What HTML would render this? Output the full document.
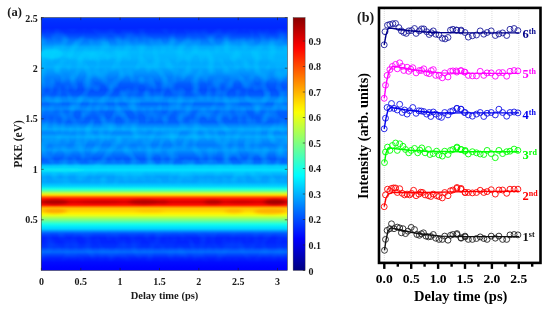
<!DOCTYPE html><html><head><meta charset="utf-8"><title>Figure</title><style>html,body{margin:0;padding:0;background:#fff}svg{display:block}</style></head><body><svg width="550" height="310" viewBox="0 0 550 310">
<defs><linearGradient id="hm" x1="0" y1="0" x2="0" y2="1"><stop offset="0.0000" stop-color="#0042ff"/><stop offset="0.0055" stop-color="#0033ff"/><stop offset="0.0214" stop-color="#002cff"/><stop offset="0.0411" stop-color="#0027ff"/><stop offset="0.0570" stop-color="#0033ff"/><stop offset="0.0728" stop-color="#004dff"/><stop offset="0.0886" stop-color="#0070ff"/><stop offset="0.1044" stop-color="#008aff"/><stop offset="0.1163" stop-color="#00a8ff"/><stop offset="0.1361" stop-color="#00b8ff"/><stop offset="0.1598" stop-color="#00b2ff"/><stop offset="0.1796" stop-color="#00a8ff"/><stop offset="0.1954" stop-color="#00adff"/><stop offset="0.2073" stop-color="#009eff"/><stop offset="0.2271" stop-color="#008aff"/><stop offset="0.2468" stop-color="#0075ff"/><stop offset="0.2627" stop-color="#005cff"/><stop offset="0.2864" stop-color="#004dff"/><stop offset="0.3062" stop-color="#005cff"/><stop offset="0.3180" stop-color="#0080ff"/><stop offset="0.3299" stop-color="#008aff"/><stop offset="0.3418" stop-color="#0066ff"/><stop offset="0.3536" stop-color="#0080ff"/><stop offset="0.3616" stop-color="#0085ff"/><stop offset="0.3734" stop-color="#0061ff"/><stop offset="0.3972" stop-color="#005cff"/><stop offset="0.4130" stop-color="#0061ff"/><stop offset="0.4288" stop-color="#008aff"/><stop offset="0.4407" stop-color="#00a3ff"/><stop offset="0.4565" stop-color="#0085ff"/><stop offset="0.4723" stop-color="#00a3ff"/><stop offset="0.4881" stop-color="#008aff"/><stop offset="0.5040" stop-color="#007aff"/><stop offset="0.5237" stop-color="#0094ff"/><stop offset="0.5396" stop-color="#0075ff"/><stop offset="0.5593" stop-color="#0057ff"/><stop offset="0.5752" stop-color="#0070ff"/><stop offset="0.5870" stop-color="#00c7ff"/><stop offset="0.6028" stop-color="#00e0ff"/><stop offset="0.6147" stop-color="#00bdff"/><stop offset="0.6305" stop-color="#009eff"/><stop offset="0.6503" stop-color="#00a3ff"/><stop offset="0.6661" stop-color="#00d1ff"/><stop offset="0.6780" stop-color="#1affe5"/><stop offset="0.6859" stop-color="#61ff9e"/><stop offset="0.6938" stop-color="#bdff42"/><stop offset="0.7017" stop-color="#ffdb00"/><stop offset="0.7097" stop-color="#ff6100"/><stop offset="0.7176" stop-color="#ff0f00"/><stop offset="0.7294" stop-color="#db0000"/><stop offset="0.7413" stop-color="#ff0f00"/><stop offset="0.7492" stop-color="#ff8a00"/><stop offset="0.7551" stop-color="#ffc200"/><stop offset="0.7650" stop-color="#ffd600"/><stop offset="0.7749" stop-color="#fff000"/><stop offset="0.7828" stop-color="#e5ff1a"/><stop offset="0.7927" stop-color="#a8ff57"/><stop offset="0.8046" stop-color="#61ff9e"/><stop offset="0.8165" stop-color="#1affe5"/><stop offset="0.8283" stop-color="#00e5ff"/><stop offset="0.8362" stop-color="#00d1ff"/><stop offset="0.8441" stop-color="#0094ff"/><stop offset="0.8521" stop-color="#005cff"/><stop offset="0.8600" stop-color="#003dff"/><stop offset="0.8718" stop-color="#0024ff"/><stop offset="0.8877" stop-color="#0024ff"/><stop offset="0.9074" stop-color="#0033ff"/><stop offset="0.9193" stop-color="#0057ff"/><stop offset="0.9272" stop-color="#0066ff"/><stop offset="0.9391" stop-color="#0042ff"/><stop offset="0.9509" stop-color="#0024ff"/><stop offset="0.9668" stop-color="#000dff"/><stop offset="0.9866" stop-color="#0002ff"/><stop offset="1.0000" stop-color="#0000fc"/></linearGradient><linearGradient id="cb" x1="0" y1="0" x2="0" y2="1"><stop offset="0.0000" stop-color="#880000"/><stop offset="0.0250" stop-color="#a10000"/><stop offset="0.0500" stop-color="#ba0000"/><stop offset="0.0750" stop-color="#d40000"/><stop offset="0.1000" stop-color="#ed0000"/><stop offset="0.1250" stop-color="#ff0700"/><stop offset="0.1500" stop-color="#ff2000"/><stop offset="0.1750" stop-color="#ff3a00"/><stop offset="0.2000" stop-color="#ff5300"/><stop offset="0.2250" stop-color="#ff6c00"/><stop offset="0.2500" stop-color="#ff8600"/><stop offset="0.2750" stop-color="#ff9f00"/><stop offset="0.3000" stop-color="#ffb800"/><stop offset="0.3250" stop-color="#ffd200"/><stop offset="0.3500" stop-color="#ffeb00"/><stop offset="0.3750" stop-color="#faff05"/><stop offset="0.4000" stop-color="#e1ff1e"/><stop offset="0.4250" stop-color="#c7ff38"/><stop offset="0.4500" stop-color="#aeff51"/><stop offset="0.4750" stop-color="#95ff6a"/><stop offset="0.5000" stop-color="#7bff84"/><stop offset="0.5250" stop-color="#62ff9d"/><stop offset="0.5500" stop-color="#49ffb6"/><stop offset="0.5750" stop-color="#30ffcf"/><stop offset="0.6000" stop-color="#16ffe9"/><stop offset="0.6250" stop-color="#00fcff"/><stop offset="0.6500" stop-color="#00e3ff"/><stop offset="0.6750" stop-color="#00c9ff"/><stop offset="0.7000" stop-color="#00b0ff"/><stop offset="0.7250" stop-color="#0097ff"/><stop offset="0.7500" stop-color="#007dff"/><stop offset="0.7750" stop-color="#0064ff"/><stop offset="0.8000" stop-color="#004bff"/><stop offset="0.8250" stop-color="#0032ff"/><stop offset="0.8500" stop-color="#0018ff"/><stop offset="0.8750" stop-color="#0000fe"/><stop offset="0.9000" stop-color="#0000e5"/><stop offset="0.9250" stop-color="#0000cb"/><stop offset="0.9500" stop-color="#0000b2"/><stop offset="0.9750" stop-color="#000099"/><stop offset="1.0000" stop-color="#000080"/></linearGradient><clipPath id="hc"><rect x="41.2" y="17.6" width="246.1" height="252.8"/></clipPath><linearGradient id="ng" gradientUnits="userSpaceOnUse" x1="0" y1="17" x2="0" y2="271"><stop offset="0.04" stop-color="#000"/><stop offset="0.1" stop-color="#fff"/><stop offset="0.64" stop-color="#fff"/><stop offset="0.675" stop-color="#000"/><stop offset="0.83" stop-color="#000"/><stop offset="0.86" stop-color="#484848"/><stop offset="0.94" stop-color="#484848"/><stop offset="0.97" stop-color="#000"/></linearGradient><mask id="nm" maskUnits="userSpaceOnUse" x="41" y="17" width="247" height="254"><rect x="41" y="17" width="247" height="254" fill="url(#ng)"/></mask><filter id="bl" x="-20%" y="-20%" width="140%" height="140%"><feGaussianBlur stdDeviation="2.2 1.1"/></filter><filter id="nz" x="0" y="0" width="100%" height="100%"><feTurbulence type="fractalNoise" baseFrequency="0.13 0.1" numOctaves="1" seed="7" result="t"/><feColorMatrix in="t" type="matrix" values="0 0 0 0 0  0 0 0 0 0.75  0 0 0 0 1  0.9 0 0 0 -0.36"/></filter></defs>
<rect width="550" height="310" fill="#fff"/>
<rect x="41.2" y="17.6" width="246.1" height="252.8" fill="url(#hm)"/>
<rect x="41.2" y="17.6" width="246.1" height="252.8" fill="none" stroke="#222" stroke-width="0.5"/>
<g clip-path="url(#hc)">
<g filter="url(#bl)">
<ellipse cx="55" cy="202" rx="13" ry="2.6" fill="#8c0000" opacity="0.55"/>
<ellipse cx="144" cy="202" rx="15" ry="2.4" fill="#8c0000" opacity="0.5"/>
<ellipse cx="163" cy="202" rx="5" ry="2" fill="#8c0000" opacity="0.35"/>
<ellipse cx="213" cy="202" rx="9" ry="2.3" fill="#8c0000" opacity="0.45"/>
<ellipse cx="275" cy="202" rx="11" ry="2.8" fill="#800000" opacity="0.6"/>
<ellipse cx="100" cy="202" rx="20" ry="1.8" fill="#a00000" opacity="0.25"/>
<ellipse cx="240" cy="202" rx="12" ry="1.8" fill="#a00000" opacity="0.25"/>
<ellipse cx="55" cy="211" rx="12" ry="2.6" fill="#ff8c00" opacity="0.6"/>
<ellipse cx="234" cy="211" rx="9" ry="2.4" fill="#ff9600" opacity="0.4"/>
<ellipse cx="270" cy="211.5" rx="16" ry="2.8" fill="#ff8c00" opacity="0.5"/>
<ellipse cx="150" cy="211" rx="14" ry="2" fill="#ffa000" opacity="0.25"/>
<ellipse cx="52" cy="54" rx="12" ry="5" fill="#00e6ff" opacity="0.5"/>
<ellipse cx="90" cy="56" rx="25" ry="4" fill="#00dcff" opacity="0.25"/>
<ellipse cx="60" cy="170" rx="25" ry="2" fill="#20ffe0" opacity="0.3"/>
</g>
<g mask="url(#nm)"><rect x="41" y="17" width="247" height="254" filter="url(#nz)"/></g>
</g>
<rect x="293.1" y="17.6" width="12" height="252.8" fill="url(#cb)"/>
<rect x="293.1" y="17.6" width="12" height="252.8" fill="none" stroke="#333" stroke-width="0.4"/>
<text x="37.8" y="21.5" font-size="10" text-anchor="end" font-family="'Liberation Serif',serif" font-weight="bold" fill="#1a1a1a">2.5</text>
<line x1="41.2" y1="17.6" x2="43.7" y2="17.6" stroke="#222" stroke-width="0.6"/>
<line x1="284.8" y1="17.6" x2="287.3" y2="17.6" stroke="#222" stroke-width="0.6"/>
<text x="37.8" y="71.8" font-size="10" text-anchor="end" font-family="'Liberation Serif',serif" font-weight="bold" fill="#1a1a1a">2</text>
<line x1="41.2" y1="68.2" x2="43.7" y2="68.2" stroke="#222" stroke-width="0.6"/>
<line x1="284.8" y1="68.2" x2="287.3" y2="68.2" stroke="#222" stroke-width="0.6"/>
<text x="37.8" y="122.3" font-size="10" text-anchor="end" font-family="'Liberation Serif',serif" font-weight="bold" fill="#1a1a1a">1.5</text>
<line x1="41.2" y1="118.8" x2="43.7" y2="118.8" stroke="#222" stroke-width="0.6"/>
<line x1="284.8" y1="118.8" x2="287.3" y2="118.8" stroke="#222" stroke-width="0.6"/>
<text x="37.8" y="172.9" font-size="10" text-anchor="end" font-family="'Liberation Serif',serif" font-weight="bold" fill="#1a1a1a">1</text>
<line x1="41.2" y1="169.3" x2="43.7" y2="169.3" stroke="#222" stroke-width="0.6"/>
<line x1="284.8" y1="169.3" x2="287.3" y2="169.3" stroke="#222" stroke-width="0.6"/>
<text x="37.8" y="223.4" font-size="10" text-anchor="end" font-family="'Liberation Serif',serif" font-weight="bold" fill="#1a1a1a">0.5</text>
<line x1="41.2" y1="219.8" x2="43.7" y2="219.8" stroke="#222" stroke-width="0.6"/>
<line x1="284.8" y1="219.8" x2="287.3" y2="219.8" stroke="#222" stroke-width="0.6"/>
<text x="41.4" y="285" font-size="10" text-anchor="middle" font-family="'Liberation Serif',serif" font-weight="bold" fill="#1a1a1a">0</text>
<line x1="41.4" y1="270.4" x2="41.4" y2="267.9" stroke="#222" stroke-width="0.6"/>
<line x1="41.4" y1="17.6" x2="41.4" y2="20.1" stroke="#222" stroke-width="0.6"/>
<text x="80.8" y="285" font-size="10" text-anchor="middle" font-family="'Liberation Serif',serif" font-weight="bold" fill="#1a1a1a">0.5</text>
<line x1="80.8" y1="270.4" x2="80.8" y2="267.9" stroke="#222" stroke-width="0.6"/>
<line x1="80.8" y1="17.6" x2="80.8" y2="20.1" stroke="#222" stroke-width="0.6"/>
<text x="120.1" y="285" font-size="10" text-anchor="middle" font-family="'Liberation Serif',serif" font-weight="bold" fill="#1a1a1a">1</text>
<line x1="120.1" y1="270.4" x2="120.1" y2="267.9" stroke="#222" stroke-width="0.6"/>
<line x1="120.1" y1="17.6" x2="120.1" y2="20.1" stroke="#222" stroke-width="0.6"/>
<text x="159.5" y="285" font-size="10" text-anchor="middle" font-family="'Liberation Serif',serif" font-weight="bold" fill="#1a1a1a">1.5</text>
<line x1="159.5" y1="270.4" x2="159.5" y2="267.9" stroke="#222" stroke-width="0.6"/>
<line x1="159.5" y1="17.6" x2="159.5" y2="20.1" stroke="#222" stroke-width="0.6"/>
<text x="198.8" y="285" font-size="10" text-anchor="middle" font-family="'Liberation Serif',serif" font-weight="bold" fill="#1a1a1a">2</text>
<line x1="198.8" y1="270.4" x2="198.8" y2="267.9" stroke="#222" stroke-width="0.6"/>
<line x1="198.8" y1="17.6" x2="198.8" y2="20.1" stroke="#222" stroke-width="0.6"/>
<text x="238.2" y="285" font-size="10" text-anchor="middle" font-family="'Liberation Serif',serif" font-weight="bold" fill="#1a1a1a">2.5</text>
<line x1="238.2" y1="270.4" x2="238.2" y2="267.9" stroke="#222" stroke-width="0.6"/>
<line x1="238.2" y1="17.6" x2="238.2" y2="20.1" stroke="#222" stroke-width="0.6"/>
<text x="277.5" y="285" font-size="10" text-anchor="middle" font-family="'Liberation Serif',serif" font-weight="bold" fill="#1a1a1a">3</text>
<line x1="277.5" y1="270.4" x2="277.5" y2="267.9" stroke="#222" stroke-width="0.6"/>
<line x1="277.5" y1="17.6" x2="277.5" y2="20.1" stroke="#222" stroke-width="0.6"/>
<text x="164.5" y="298.6" font-size="10.5" text-anchor="middle" font-family="'Liberation Serif',serif" font-weight="bold" fill="#1a1a1a">Delay time (ps)</text>
<text transform="translate(22.2,144) rotate(-90)" font-size="11.5" text-anchor="middle" font-family="'Liberation Serif',serif" font-weight="bold" fill="#1a1a1a">PKE (eV)</text>
<text x="7.3" y="16" font-size="12.5" font-family="'Liberation Serif',serif" font-weight="bold" fill="#1a1a1a">(a)</text>
<text x="308.5" y="274.7" font-size="10" font-family="'Liberation Serif',serif" font-weight="bold" fill="#1a1a1a">0</text>
<line x1="302.8" y1="270.5" x2="305.1" y2="270.5" stroke="#222" stroke-width="0.6"/>
<text x="308.5" y="248.6" font-size="10" font-family="'Liberation Serif',serif" font-weight="bold" fill="#1a1a1a">0.1</text>
<line x1="302.8" y1="245.0" x2="305.1" y2="245.0" stroke="#222" stroke-width="0.6"/>
<text x="308.5" y="223.1" font-size="10" font-family="'Liberation Serif',serif" font-weight="bold" fill="#1a1a1a">0.2</text>
<line x1="302.8" y1="219.5" x2="305.1" y2="219.5" stroke="#222" stroke-width="0.6"/>
<text x="308.5" y="197.6" font-size="10" font-family="'Liberation Serif',serif" font-weight="bold" fill="#1a1a1a">0.3</text>
<line x1="302.8" y1="194.0" x2="305.1" y2="194.0" stroke="#222" stroke-width="0.6"/>
<text x="308.5" y="172.1" font-size="10" font-family="'Liberation Serif',serif" font-weight="bold" fill="#1a1a1a">0.4</text>
<line x1="302.8" y1="168.5" x2="305.1" y2="168.5" stroke="#222" stroke-width="0.6"/>
<text x="308.5" y="146.6" font-size="10" font-family="'Liberation Serif',serif" font-weight="bold" fill="#1a1a1a">0.5</text>
<line x1="302.8" y1="143.0" x2="305.1" y2="143.0" stroke="#222" stroke-width="0.6"/>
<text x="308.5" y="121.1" font-size="10" font-family="'Liberation Serif',serif" font-weight="bold" fill="#1a1a1a">0.6</text>
<line x1="302.8" y1="117.5" x2="305.1" y2="117.5" stroke="#222" stroke-width="0.6"/>
<text x="308.5" y="95.6" font-size="10" font-family="'Liberation Serif',serif" font-weight="bold" fill="#1a1a1a">0.7</text>
<line x1="302.8" y1="92.0" x2="305.1" y2="92.0" stroke="#222" stroke-width="0.6"/>
<text x="308.5" y="70.1" font-size="10" font-family="'Liberation Serif',serif" font-weight="bold" fill="#1a1a1a">0.8</text>
<line x1="302.8" y1="66.5" x2="305.1" y2="66.5" stroke="#222" stroke-width="0.6"/>
<text x="308.5" y="44.6" font-size="10" font-family="'Liberation Serif',serif" font-weight="bold" fill="#1a1a1a">0.9</text>
<line x1="302.8" y1="41.0" x2="305.1" y2="41.0" stroke="#222" stroke-width="0.6"/>
<text x="357" y="21.8" font-size="14" font-family="'Liberation Serif',serif" font-weight="bold" fill="#1a1a1a">(b)</text>
<line x1="384.3" y1="9.2" x2="384.3" y2="261.7" stroke="#c4c4c4" stroke-width="0.7" stroke-dasharray="0.8,1.2"/>
<line x1="411.2" y1="9.2" x2="411.2" y2="261.7" stroke="#c4c4c4" stroke-width="0.7" stroke-dasharray="0.8,1.2"/>
<line x1="438.1" y1="9.2" x2="438.1" y2="261.7" stroke="#c4c4c4" stroke-width="0.7" stroke-dasharray="0.8,1.2"/>
<line x1="465.0" y1="9.2" x2="465.0" y2="261.7" stroke="#c4c4c4" stroke-width="0.7" stroke-dasharray="0.8,1.2"/>
<line x1="491.9" y1="9.2" x2="491.9" y2="261.7" stroke="#c4c4c4" stroke-width="0.7" stroke-dasharray="0.8,1.2"/>
<line x1="518.8" y1="9.2" x2="518.8" y2="261.7" stroke="#c4c4c4" stroke-width="0.7" stroke-dasharray="0.8,1.2"/>
<g fill="none" stroke="#1c1c9c" stroke-width="0.9">
<circle cx="384.2" cy="44.8" r="2.95"/>
<circle cx="385.0" cy="31.7" r="2.95"/>
<circle cx="387.5" cy="25.2" r="2.95"/>
<circle cx="389.9" cy="24.4" r="2.95"/>
<circle cx="392.8" cy="23.7" r="2.95"/>
<circle cx="395.6" cy="23.5" r="2.95"/>
<circle cx="398.9" cy="27.6" r="2.95"/>
<circle cx="401.4" cy="30.9" r="2.95"/>
<circle cx="403.8" cy="32.5" r="2.95"/>
<circle cx="406.3" cy="33.4" r="2.95"/>
<circle cx="408.7" cy="30.9" r="2.95"/>
<circle cx="411.6" cy="30.5" r="2.95"/>
<circle cx="414.5" cy="28.5" r="2.95"/>
<circle cx="416.1" cy="33.4" r="2.95"/>
<circle cx="419.4" cy="30.9" r="2.95"/>
<circle cx="421.6" cy="28.9" r="2.95"/>
<circle cx="423.8" cy="28.9" r="2.95"/>
<circle cx="426.7" cy="31.7" r="2.95"/>
<circle cx="429.2" cy="34.5" r="2.95"/>
<circle cx="431.2" cy="32.7" r="2.95"/>
<circle cx="433.3" cy="30.9" r="2.95"/>
<circle cx="435.7" cy="34.2" r="2.95"/>
<circle cx="439.0" cy="35.0" r="2.95"/>
<circle cx="442.3" cy="38.3" r="2.95"/>
<circle cx="445.1" cy="38.9" r="2.95"/>
<circle cx="448.0" cy="37.5" r="2.95"/>
<circle cx="450.5" cy="30.1" r="2.95"/>
<circle cx="452.9" cy="29.3" r="2.95"/>
<circle cx="456.2" cy="30.1" r="2.95"/>
<circle cx="456.8" cy="30.1" r="2.95"/>
<circle cx="460.9" cy="30.9" r="2.95"/>
<circle cx="461.1" cy="30.1" r="2.95"/>
<circle cx="465.0" cy="32.5" r="2.95"/>
<circle cx="468.3" cy="37.1" r="2.95"/>
<circle cx="472.4" cy="35.8" r="2.95"/>
<circle cx="476.5" cy="35.0" r="2.95"/>
<circle cx="480.2" cy="30.9" r="2.95"/>
<circle cx="483.8" cy="34.2" r="2.95"/>
<circle cx="487.1" cy="32.5" r="2.95"/>
<circle cx="491.2" cy="30.9" r="2.95"/>
<circle cx="495.3" cy="35.5" r="2.95"/>
<circle cx="498.9" cy="33.9" r="2.95"/>
<circle cx="502.6" cy="32.9" r="2.95"/>
<circle cx="506.7" cy="35.5" r="2.95"/>
<circle cx="510.0" cy="29.3" r="2.95"/>
<circle cx="514.1" cy="28.5" r="2.95"/>
<circle cx="517.9" cy="30.6" r="2.95"/>
</g>
<polyline fill="none" stroke="#00008b" stroke-width="1.4" stroke-linejoin="round" points="384.2,44.8 386.0,35.0 388.3,28.0 392.0,28.3 400.0,29.5 410.0,30.8 420.0,31.7 436.0,32.5 460.0,32.9 519.0,32.9"/>
<text x="522.6" y="37.5" font-size="12.5" font-family="'Liberation Serif',serif" font-weight="bold" fill="#00008b">6<tspan font-size="8" dy="-4">th</tspan></text>
<g fill="none" stroke="#ff00ff" stroke-width="0.9">
<circle cx="384.2" cy="98.3" r="2.95"/>
<circle cx="385.5" cy="85.2" r="2.95"/>
<circle cx="387.1" cy="75.4" r="2.95"/>
<circle cx="389.9" cy="69.6" r="2.95"/>
<circle cx="392.4" cy="66.4" r="2.95"/>
<circle cx="395.6" cy="64.4" r="2.95"/>
<circle cx="397.3" cy="68.8" r="2.95"/>
<circle cx="399.7" cy="62.8" r="2.95"/>
<circle cx="402.2" cy="66.4" r="2.95"/>
<circle cx="403.8" cy="70.5" r="2.95"/>
<circle cx="407.1" cy="67.2" r="2.95"/>
<circle cx="408.7" cy="71.3" r="2.95"/>
<circle cx="410.8" cy="69.2" r="2.95"/>
<circle cx="412.8" cy="67.7" r="2.95"/>
<circle cx="416.1" cy="72.9" r="2.95"/>
<circle cx="419.4" cy="70.5" r="2.95"/>
<circle cx="421.6" cy="70.4" r="2.95"/>
<circle cx="423.8" cy="68.8" r="2.95"/>
<circle cx="426.7" cy="72.9" r="2.95"/>
<circle cx="429.2" cy="73.7" r="2.95"/>
<circle cx="431.2" cy="70.6" r="2.95"/>
<circle cx="433.3" cy="69.6" r="2.95"/>
<circle cx="435.7" cy="75.4" r="2.95"/>
<circle cx="439.0" cy="75.4" r="2.95"/>
<circle cx="442.3" cy="77.8" r="2.95"/>
<circle cx="444.7" cy="72.9" r="2.95"/>
<circle cx="448.0" cy="77.0" r="2.95"/>
<circle cx="450.5" cy="71.3" r="2.95"/>
<circle cx="452.9" cy="70.9" r="2.95"/>
<circle cx="456.2" cy="70.9" r="2.95"/>
<circle cx="456.8" cy="72.1" r="2.95"/>
<circle cx="460.9" cy="70.5" r="2.95"/>
<circle cx="461.1" cy="70.9" r="2.95"/>
<circle cx="464.4" cy="72.1" r="2.95"/>
<circle cx="465.0" cy="72.1" r="2.95"/>
<circle cx="468.3" cy="75.4" r="2.95"/>
<circle cx="472.4" cy="75.9" r="2.95"/>
<circle cx="476.5" cy="75.9" r="2.95"/>
<circle cx="480.2" cy="71.3" r="2.95"/>
<circle cx="483.8" cy="75.4" r="2.95"/>
<circle cx="487.1" cy="72.9" r="2.95"/>
<circle cx="491.2" cy="72.9" r="2.95"/>
<circle cx="495.3" cy="76.2" r="2.95"/>
<circle cx="498.9" cy="72.6" r="2.95"/>
<circle cx="502.6" cy="72.6" r="2.95"/>
<circle cx="506.7" cy="76.2" r="2.95"/>
<circle cx="510.0" cy="71.3" r="2.95"/>
<circle cx="514.1" cy="70.5" r="2.95"/>
<circle cx="517.9" cy="70.9" r="2.95"/>
</g>
<polyline fill="none" stroke="#ff00ff" stroke-width="1.4" stroke-linejoin="round" points="384.2,98.3 386.5,82.0 389.0,71.0 392.4,66.4 397.0,66.8 405.0,68.3 415.0,70.0 425.0,71.5 441.5,72.9 465.0,73.4 519.0,73.4"/>
<text x="522.6" y="78.2" font-size="12.5" font-family="'Liberation Serif',serif" font-weight="bold" fill="#ff00ff">5<tspan font-size="8" dy="-4">th</tspan></text>
<g fill="none" stroke="#1414e6" stroke-width="0.9">
<circle cx="384.2" cy="128.8" r="2.95"/>
<circle cx="385.5" cy="118.2" r="2.95"/>
<circle cx="387.1" cy="107.5" r="2.95"/>
<circle cx="389.9" cy="108.4" r="2.95"/>
<circle cx="391.5" cy="103.5" r="2.95"/>
<circle cx="394.0" cy="108.4" r="2.95"/>
<circle cx="397.3" cy="110.0" r="2.95"/>
<circle cx="399.7" cy="104.3" r="2.95"/>
<circle cx="402.2" cy="112.5" r="2.95"/>
<circle cx="404.6" cy="110.0" r="2.95"/>
<circle cx="407.1" cy="114.1" r="2.95"/>
<circle cx="409.6" cy="110.8" r="2.95"/>
<circle cx="412.8" cy="107.5" r="2.95"/>
<circle cx="416.1" cy="113.3" r="2.95"/>
<circle cx="418.9" cy="110.8" r="2.95"/>
<circle cx="421.3" cy="111.0" r="2.95"/>
<circle cx="423.8" cy="111.6" r="2.95"/>
<circle cx="426.7" cy="114.1" r="2.95"/>
<circle cx="429.2" cy="112.5" r="2.95"/>
<circle cx="430.8" cy="116.5" r="2.95"/>
<circle cx="433.3" cy="112.0" r="2.95"/>
<circle cx="435.7" cy="114.1" r="2.95"/>
<circle cx="439.0" cy="116.5" r="2.95"/>
<circle cx="441.5" cy="117.4" r="2.95"/>
<circle cx="444.7" cy="112.5" r="2.95"/>
<circle cx="448.0" cy="114.9" r="2.95"/>
<circle cx="450.5" cy="111.6" r="2.95"/>
<circle cx="452.9" cy="110.8" r="2.95"/>
<circle cx="456.8" cy="108.4" r="2.95"/>
<circle cx="457.0" cy="108.4" r="2.95"/>
<circle cx="460.9" cy="109.2" r="2.95"/>
<circle cx="461.1" cy="109.2" r="2.95"/>
<circle cx="464.4" cy="112.5" r="2.95"/>
<circle cx="465.0" cy="112.5" r="2.95"/>
<circle cx="468.3" cy="114.9" r="2.95"/>
<circle cx="472.4" cy="116.2" r="2.95"/>
<circle cx="476.5" cy="114.1" r="2.95"/>
<circle cx="480.2" cy="112.5" r="2.95"/>
<circle cx="483.8" cy="116.5" r="2.95"/>
<circle cx="487.1" cy="113.3" r="2.95"/>
<circle cx="491.2" cy="112.5" r="2.95"/>
<circle cx="495.3" cy="114.9" r="2.95"/>
<circle cx="498.9" cy="109.2" r="2.95"/>
<circle cx="502.6" cy="112.5" r="2.95"/>
<circle cx="506.7" cy="116.2" r="2.95"/>
<circle cx="510.0" cy="112.5" r="2.95"/>
<circle cx="514.1" cy="112.0" r="2.95"/>
<circle cx="517.9" cy="112.9" r="2.95"/>
</g>
<polyline fill="none" stroke="#0000ee" stroke-width="1.4" stroke-linejoin="round" points="384.2,128.8 386.0,118.0 388.0,110.0 390.7,107.5 396.0,108.3 405.0,109.8 415.0,111.0 425.0,112.0 441.5,113.0 465.0,112.9 519.0,112.9"/>
<text x="522.6" y="119.0" font-size="12.5" font-family="'Liberation Serif',serif" font-weight="bold" fill="#0000ee">4<tspan font-size="8" dy="-4">th</tspan></text>
<g fill="none" stroke="#00ff00" stroke-width="0.9">
<circle cx="384.5" cy="162.6" r="2.95"/>
<circle cx="385.5" cy="152.0" r="2.95"/>
<circle cx="387.5" cy="147.1" r="2.95"/>
<circle cx="389.9" cy="150.4" r="2.95"/>
<circle cx="392.4" cy="145.5" r="2.95"/>
<circle cx="395.6" cy="143.0" r="2.95"/>
<circle cx="397.3" cy="150.4" r="2.95"/>
<circle cx="399.7" cy="143.8" r="2.95"/>
<circle cx="403.0" cy="146.3" r="2.95"/>
<circle cx="405.5" cy="149.5" r="2.95"/>
<circle cx="408.7" cy="152.8" r="2.95"/>
<circle cx="411.2" cy="150.4" r="2.95"/>
<circle cx="414.5" cy="148.4" r="2.95"/>
<circle cx="417.7" cy="152.8" r="2.95"/>
<circle cx="419.8" cy="150.1" r="2.95"/>
<circle cx="421.8" cy="147.9" r="2.95"/>
<circle cx="425.1" cy="152.8" r="2.95"/>
<circle cx="428.4" cy="149.5" r="2.95"/>
<circle cx="430.0" cy="154.5" r="2.95"/>
<circle cx="433.3" cy="153.6" r="2.95"/>
<circle cx="436.6" cy="151.2" r="2.95"/>
<circle cx="439.0" cy="154.9" r="2.95"/>
<circle cx="442.3" cy="156.1" r="2.95"/>
<circle cx="444.7" cy="151.2" r="2.95"/>
<circle cx="448.0" cy="154.5" r="2.95"/>
<circle cx="450.5" cy="150.4" r="2.95"/>
<circle cx="452.9" cy="149.5" r="2.95"/>
<circle cx="456.8" cy="147.9" r="2.95"/>
<circle cx="457.0" cy="147.1" r="2.95"/>
<circle cx="460.9" cy="149.5" r="2.95"/>
<circle cx="461.1" cy="149.5" r="2.95"/>
<circle cx="465.0" cy="151.2" r="2.95"/>
<circle cx="465.2" cy="150.4" r="2.95"/>
<circle cx="468.3" cy="154.0" r="2.95"/>
<circle cx="472.4" cy="151.7" r="2.95"/>
<circle cx="476.5" cy="152.8" r="2.95"/>
<circle cx="480.2" cy="154.0" r="2.95"/>
<circle cx="483.8" cy="154.5" r="2.95"/>
<circle cx="487.1" cy="150.4" r="2.95"/>
<circle cx="491.2" cy="153.6" r="2.95"/>
<circle cx="495.3" cy="157.7" r="2.95"/>
<circle cx="498.9" cy="150.4" r="2.95"/>
<circle cx="502.6" cy="153.6" r="2.95"/>
<circle cx="506.7" cy="151.7" r="2.95"/>
<circle cx="510.0" cy="151.2" r="2.95"/>
<circle cx="514.1" cy="149.1" r="2.95"/>
<circle cx="517.9" cy="150.4" r="2.95"/>
</g>
<polyline fill="none" stroke="#00ff00" stroke-width="1.4" stroke-linejoin="round" points="384.5,162.6 386.0,153.0 388.3,147.9 392.0,148.2 400.0,149.3 410.0,150.2 425.0,151.2 465.0,151.7 519.0,151.7"/>
<text x="522.6" y="159.4" font-size="12.5" font-family="'Liberation Serif',serif" font-weight="bold" fill="#00ff00">3<tspan font-size="8" dy="-4">rd</tspan></text>
<g fill="none" stroke="#ff0000" stroke-width="0.9">
<circle cx="384.2" cy="206.7" r="2.95"/>
<circle cx="385.5" cy="194.9" r="2.95"/>
<circle cx="387.5" cy="189.2" r="2.95"/>
<circle cx="389.9" cy="190.8" r="2.95"/>
<circle cx="391.5" cy="188.4" r="2.95"/>
<circle cx="393.6" cy="187.9" r="2.95"/>
<circle cx="395.6" cy="188.0" r="2.95"/>
<circle cx="397.3" cy="192.5" r="2.95"/>
<circle cx="399.7" cy="188.7" r="2.95"/>
<circle cx="402.2" cy="193.3" r="2.95"/>
<circle cx="404.6" cy="194.9" r="2.95"/>
<circle cx="407.1" cy="194.1" r="2.95"/>
<circle cx="409.6" cy="194.9" r="2.95"/>
<circle cx="411.6" cy="193.4" r="2.95"/>
<circle cx="413.6" cy="190.3" r="2.95"/>
<circle cx="416.1" cy="195.7" r="2.95"/>
<circle cx="418.9" cy="194.1" r="2.95"/>
<circle cx="420.8" cy="192.2" r="2.95"/>
<circle cx="422.6" cy="192.5" r="2.95"/>
<circle cx="425.1" cy="194.9" r="2.95"/>
<circle cx="428.4" cy="195.7" r="2.95"/>
<circle cx="430.8" cy="196.5" r="2.95"/>
<circle cx="433.3" cy="194.1" r="2.95"/>
<circle cx="436.6" cy="195.7" r="2.95"/>
<circle cx="439.0" cy="196.5" r="2.95"/>
<circle cx="442.3" cy="197.9" r="2.95"/>
<circle cx="444.7" cy="192.5" r="2.95"/>
<circle cx="448.0" cy="195.7" r="2.95"/>
<circle cx="450.5" cy="190.8" r="2.95"/>
<circle cx="452.9" cy="190.0" r="2.95"/>
<circle cx="456.8" cy="188.4" r="2.95"/>
<circle cx="457.0" cy="187.5" r="2.95"/>
<circle cx="460.9" cy="189.2" r="2.95"/>
<circle cx="461.1" cy="188.4" r="2.95"/>
<circle cx="465.0" cy="192.5" r="2.95"/>
<circle cx="465.2" cy="192.5" r="2.95"/>
<circle cx="468.3" cy="192.5" r="2.95"/>
<circle cx="472.4" cy="192.9" r="2.95"/>
<circle cx="476.5" cy="192.5" r="2.95"/>
<circle cx="480.2" cy="190.3" r="2.95"/>
<circle cx="483.8" cy="192.5" r="2.95"/>
<circle cx="487.1" cy="191.6" r="2.95"/>
<circle cx="491.2" cy="189.7" r="2.95"/>
<circle cx="495.3" cy="194.1" r="2.95"/>
<circle cx="498.9" cy="190.0" r="2.95"/>
<circle cx="502.6" cy="190.0" r="2.95"/>
<circle cx="506.7" cy="193.3" r="2.95"/>
<circle cx="510.0" cy="189.2" r="2.95"/>
<circle cx="514.1" cy="189.2" r="2.95"/>
<circle cx="517.9" cy="189.2" r="2.95"/>
</g>
<polyline fill="none" stroke="#ff0000" stroke-width="1.4" stroke-linejoin="round" points="384.2,206.7 386.0,198.0 388.3,194.0 392.4,192.5 425.0,192.5 466.0,191.6 519.0,191.3"/>
<text x="522.6" y="200.2" font-size="12.5" font-family="'Liberation Serif',serif" font-weight="bold" fill="#ff0000">2<tspan font-size="8" dy="-4">nd</tspan></text>
<g fill="none" stroke="#222222" stroke-width="0.9">
<circle cx="384.5" cy="250.3" r="2.95"/>
<circle cx="385.5" cy="239.4" r="2.95"/>
<circle cx="387.1" cy="230.4" r="2.95"/>
<circle cx="389.9" cy="228.7" r="2.95"/>
<circle cx="391.5" cy="223.8" r="2.95"/>
<circle cx="394.0" cy="228.7" r="2.95"/>
<circle cx="397.3" cy="227.1" r="2.95"/>
<circle cx="399.7" cy="227.9" r="2.95"/>
<circle cx="401.4" cy="232.8" r="2.95"/>
<circle cx="403.0" cy="228.7" r="2.95"/>
<circle cx="405.5" cy="233.6" r="2.95"/>
<circle cx="407.9" cy="231.2" r="2.95"/>
<circle cx="411.2" cy="227.4" r="2.95"/>
<circle cx="414.5" cy="229.5" r="2.95"/>
<circle cx="416.9" cy="234.5" r="2.95"/>
<circle cx="419.4" cy="235.3" r="2.95"/>
<circle cx="421.4" cy="233.8" r="2.95"/>
<circle cx="423.5" cy="232.8" r="2.95"/>
<circle cx="425.9" cy="236.1" r="2.95"/>
<circle cx="428.4" cy="236.9" r="2.95"/>
<circle cx="430.8" cy="236.5" r="2.95"/>
<circle cx="433.3" cy="234.5" r="2.95"/>
<circle cx="435.7" cy="238.2" r="2.95"/>
<circle cx="439.0" cy="239.4" r="2.95"/>
<circle cx="442.3" cy="239.4" r="2.95"/>
<circle cx="444.7" cy="236.1" r="2.95"/>
<circle cx="448.0" cy="240.2" r="2.95"/>
<circle cx="450.5" cy="235.3" r="2.95"/>
<circle cx="452.9" cy="234.5" r="2.95"/>
<circle cx="456.8" cy="234.5" r="2.95"/>
<circle cx="457.0" cy="233.6" r="2.95"/>
<circle cx="460.9" cy="237.7" r="2.95"/>
<circle cx="461.1" cy="238.2" r="2.95"/>
<circle cx="465.0" cy="236.1" r="2.95"/>
<circle cx="465.2" cy="236.9" r="2.95"/>
<circle cx="468.3" cy="239.4" r="2.95"/>
<circle cx="472.4" cy="239.4" r="2.95"/>
<circle cx="476.5" cy="238.5" r="2.95"/>
<circle cx="480.2" cy="236.9" r="2.95"/>
<circle cx="483.8" cy="238.5" r="2.95"/>
<circle cx="487.1" cy="239.4" r="2.95"/>
<circle cx="491.2" cy="236.1" r="2.95"/>
<circle cx="495.3" cy="238.2" r="2.95"/>
<circle cx="498.9" cy="236.1" r="2.95"/>
<circle cx="502.6" cy="239.4" r="2.95"/>
<circle cx="506.7" cy="239.4" r="2.95"/>
<circle cx="510.0" cy="234.9" r="2.95"/>
<circle cx="514.1" cy="234.5" r="2.95"/>
<circle cx="517.9" cy="234.9" r="2.95"/>
</g>
<polyline fill="none" stroke="#111111" stroke-width="1.4" stroke-linejoin="round" points="384.5,250.3 386.0,240.0 388.0,231.0 390.7,227.9 396.0,229.0 405.0,231.0 415.0,233.0 425.0,234.5 441.5,236.1 465.0,236.6 519.0,236.6"/>
<text x="522.6" y="241.0" font-size="12.5" font-family="'Liberation Serif',serif" font-weight="bold" fill="#111111">1<tspan font-size="8" dy="-4">st</tspan></text>
<rect x="379" y="7.9" width="161.5" height="255" fill="none" stroke="#000" stroke-width="2.6"/>
<line x1="384.3" y1="264" x2="384.3" y2="268.9" stroke="#000" stroke-width="2.4"/>
<line x1="397.8" y1="264" x2="397.8" y2="266.7" stroke="#000" stroke-width="2.4"/>
<line x1="411.2" y1="264" x2="411.2" y2="268.9" stroke="#000" stroke-width="2.4"/>
<line x1="424.6" y1="264" x2="424.6" y2="266.7" stroke="#000" stroke-width="2.4"/>
<line x1="438.1" y1="264" x2="438.1" y2="268.9" stroke="#000" stroke-width="2.4"/>
<line x1="451.6" y1="264" x2="451.6" y2="266.7" stroke="#000" stroke-width="2.4"/>
<line x1="465.0" y1="264" x2="465.0" y2="268.9" stroke="#000" stroke-width="2.4"/>
<line x1="478.4" y1="264" x2="478.4" y2="266.7" stroke="#000" stroke-width="2.4"/>
<line x1="491.9" y1="264" x2="491.9" y2="268.9" stroke="#000" stroke-width="2.4"/>
<line x1="505.4" y1="264" x2="505.4" y2="266.7" stroke="#000" stroke-width="2.4"/>
<line x1="518.8" y1="264" x2="518.8" y2="268.9" stroke="#000" stroke-width="2.4"/>
<line x1="532.2" y1="264" x2="532.2" y2="266.7" stroke="#000" stroke-width="2.4"/>
<text x="384.3" y="283.3" font-size="13.5" text-anchor="middle" font-family="'Liberation Serif',serif" font-weight="bold" fill="#000">0.0</text>
<text x="411.2" y="283.3" font-size="13.5" text-anchor="middle" font-family="'Liberation Serif',serif" font-weight="bold" fill="#000">0.5</text>
<text x="438.1" y="283.3" font-size="13.5" text-anchor="middle" font-family="'Liberation Serif',serif" font-weight="bold" fill="#000">1.0</text>
<text x="465.0" y="283.3" font-size="13.5" text-anchor="middle" font-family="'Liberation Serif',serif" font-weight="bold" fill="#000">1.5</text>
<text x="491.9" y="283.3" font-size="13.5" text-anchor="middle" font-family="'Liberation Serif',serif" font-weight="bold" fill="#000">2.0</text>
<text x="518.8" y="283.3" font-size="13.5" text-anchor="middle" font-family="'Liberation Serif',serif" font-weight="bold" fill="#000">2.5</text>
<text x="460.7" y="301" font-size="14.5" text-anchor="middle" font-family="'Liberation Serif',serif" font-weight="bold" fill="#000">Delay time (ps)</text>
<text transform="translate(368,136) rotate(-90)" font-size="14.3" text-anchor="middle" font-family="'Liberation Serif',serif" font-weight="bold" fill="#000">Intensity (arb. units)</text>
</svg></body></html>
